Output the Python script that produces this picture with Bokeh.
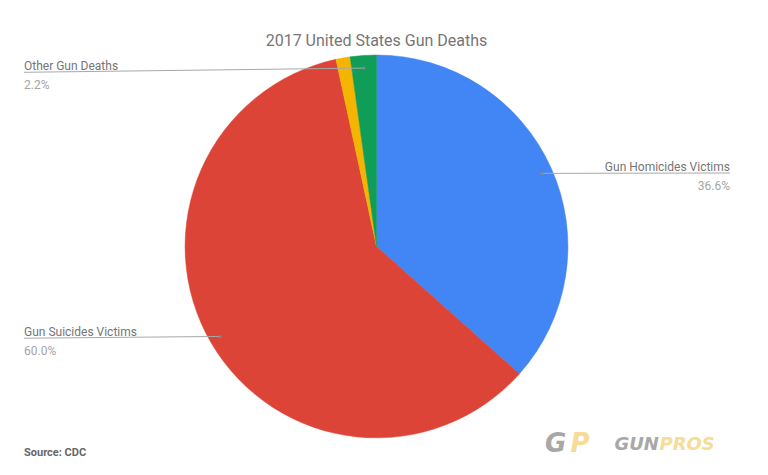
import numpy as np
from bokeh.plotting import figure
from bokeh.models import Range1d
from bokeh.core.properties import value
from bokeh.embed import file_html
from bokeh.resources import INLINE

# ---- data ----
title = "2017 United States Gun Deaths"
categories = ["Gun Homicides Victims", "Gun Suicides Victims",
              "Unintentional Gun Deaths", "Other Gun Deaths"]
shares = [36.6, 60.0, 1.2, 2.2]
show_label = [True, True, False, True]
colors = ["#4285f4", "#db4437", "#f4b400", "#0f9d58"]
source_note = "Source: CDC"

# ---- layout: data coords = 768x475 design pixels (y flipped) ----
W, H = 752, 459
def sy(y):
    return 475 - y

p = figure(width=W, height=H, x_range=Range1d(0, 768), y_range=Range1d(0, 475),
           output_backend="svg", toolbar_location=None, min_border=0,
           x_axis_type=None, y_axis_type=None)
p.grid.visible = False
p.outline_line_color = None
p.background_fill_color = "white"
p.border_fill_color = "white"

cx, cy, r = 384, sy(254.5), 195.5
vals = np.array(shares, dtype=float)
frac = vals / vals.sum()
cum = np.cumsum(frac)
prev = cum - frac
start = np.pi / 2 - 2 * np.pi * prev
end = np.pi / 2 - 2 * np.pi * cum
p.wedge(x=[cx] * len(vals), y=[cy] * len(vals), radius=r,
        start_angle=list(start), end_angle=list(end), direction="clock",
        fill_color=colors, line_color=colors, line_width=0.5)

# labels
font = value("Roboto")
label_line_y = [178.5, 349.5, None, 74.3]
label_side = ["right", "left", None, "left"]
mid = np.pi / 2 - 2 * np.pi * (prev + frac / 2)
lr = 185
for i, cat in enumerate(categories):
    if not show_label[i]:
        continue
    dx = cx + lr * np.cos(mid[i])
    dy = cy + lr * np.sin(mid[i])
    ly = sy(label_line_y[i])
    if label_side[i] == "right":
        xe, align = 745, "right"
    else:
        xe, align = 24, "left"
    p.line([dx, xe], [dy, ly], line_color="#a8a8a8", line_width=1)
    p.scatter([dx], [dy], size=3, color="#888888", line_color=None)
    p.text([xe], [ly + 6], text=[cat], text_font=font, text_font_size="12px",
           text_color="#757575", text_align=align, text_baseline="alphabetic")
    p.text([xe], [ly - 13], text=[f"{shares[i]:.1f}%"], text_font=font,
           text_font_size="12px", text_color="#a5a5a5", text_align=align,
           text_baseline="alphabetic")

# title
p.text([384], [sy(41)], text=[title], text_font=font, text_font_size="16px",
       text_color="#757575", text_align="center", text_baseline="alphabetic")

# source
p.text([24], [sy(467.5)], text=[source_note], text_font=font, text_font_size="11px",
       text_font_style="bold", text_color="#666666", text_align="left",
       text_baseline="alphabetic")

# logo
logo_font = value("DejaVu Sans")
p.text([556], [sy(458)], text=["G"], text_font=logo_font, text_font_size="26px",
       text_font_style="bold italic", text_color="#a8a8a8", text_align="left",
       text_baseline="alphabetic")
p.text([582], [sy(458)], text=["P"], text_font=logo_font, text_font_size="26px",
       text_font_style="bold italic", text_color="#f6dc98", text_align="left",
       text_baseline="alphabetic")
p.text([627], [sy(458)], text=["GUN"], text_font=logo_font, text_font_size="18px",
       text_font_style="bold italic", text_color="#a8a8a8", text_align="left",
       text_baseline="alphabetic")
p.text([673], [sy(458)], text=["PROS"], text_font=logo_font, text_font_size="18px",
       text_font_style="bold italic", text_color="#f6dc98", text_align="left",
       text_baseline="alphabetic")

open("out.html", "w").write(file_html(p, INLINE))
